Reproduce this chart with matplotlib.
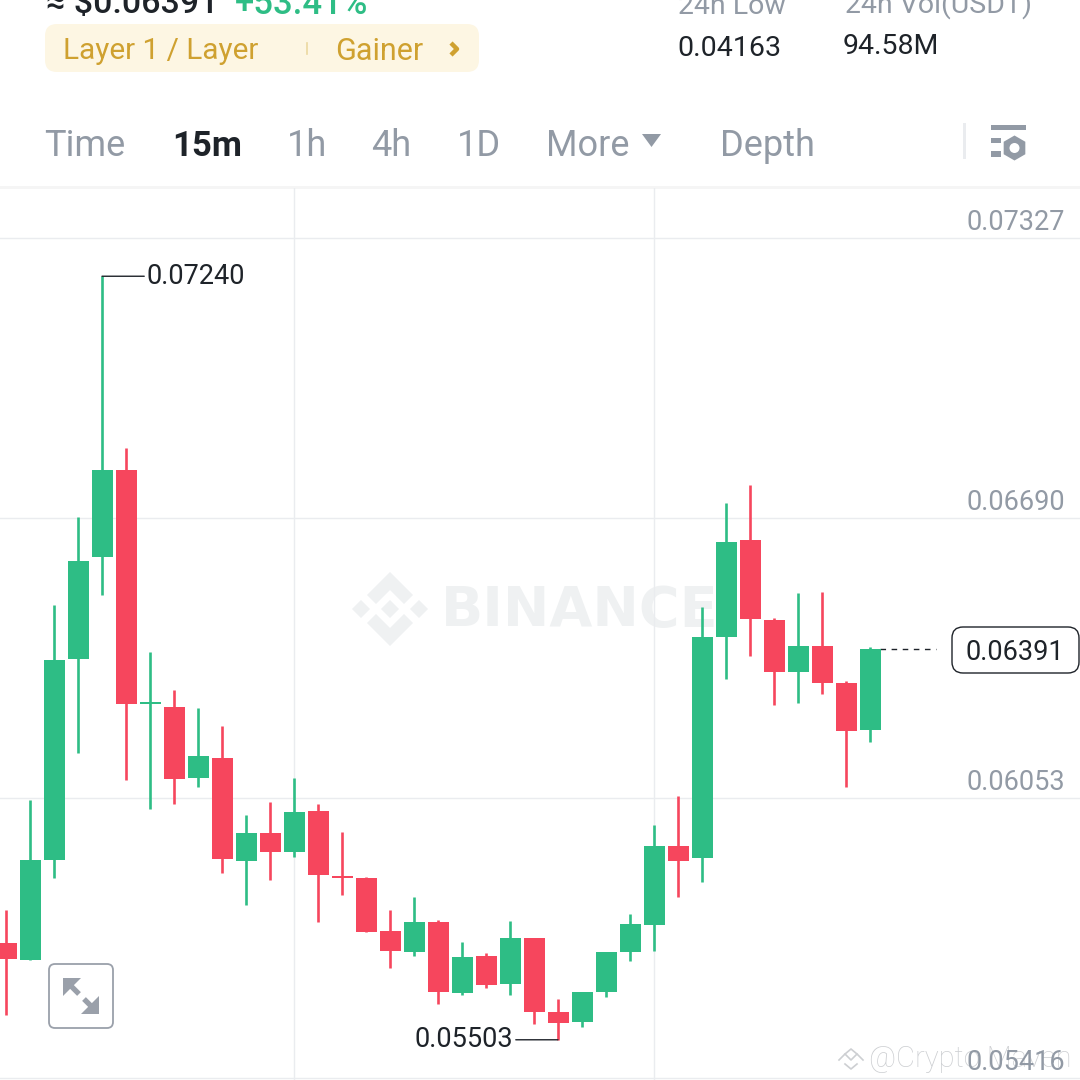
import matplotlib
matplotlib.use('Agg')
import matplotlib.pyplot as plt
from matplotlib.patches import FancyBboxPatch, Polygon, RegularPolygon, Circle, Rectangle

plt.rcParams['font.family'] = ['Roboto', 'DejaVu Sans']

# 15m candles
opens = [0.05723, 0.05684, 0.05912, 0.06369, 0.06601, 0.06799, 0.06267, 0.06260, 0.06099, 0.06144,
         0.05910, 0.05973, 0.05930, 0.06023, 0.05876, 0.05871, 0.05750, 0.05703, 0.05771, 0.05609,
         0.05694, 0.05630, 0.05735, 0.05566, 0.05543, 0.05612, 0.05703, 0.05764, 0.05944, 0.05917,
         0.06419, 0.06640, 0.06458, 0.06340, 0.06399, 0.06315, 0.06208]
highs = [0.05798, 0.06048, 0.06492, 0.06692, 0.07240, 0.06849, 0.06385, 0.06299, 0.06258, 0.06217,
         0.06014, 0.06044, 0.06099, 0.06039, 0.05976, 0.05873, 0.05798, 0.05828, 0.05775, 0.05725,
         0.05700, 0.05773, 0.05735, 0.05596, 0.05612, 0.05703, 0.05789, 0.05992, 0.06058, 0.06488,
         0.06724, 0.06765, 0.06463, 0.06519, 0.06522, 0.06319, 0.06397]
lows = [0.05559, 0.05684, 0.05871, 0.06155, 0.06515, 0.06094, 0.06028, 0.06039, 0.06078, 0.05882,
        0.05810, 0.05866, 0.05919, 0.05771, 0.05832, 0.05748, 0.05666, 0.05694, 0.05584, 0.05605,
        0.05621, 0.05605, 0.05539, 0.05503, 0.05532, 0.05600, 0.05682, 0.05705, 0.05828, 0.05862,
        0.06324, 0.06376, 0.06265, 0.06269, 0.06290, 0.06078, 0.06180]
closes = [0.05687, 0.05912, 0.06367, 0.06592, 0.06799, 0.06267, 0.06271, 0.06096, 0.06149, 0.05914,
          0.05973, 0.05930, 0.06021, 0.05878, 0.05871, 0.05748, 0.05705, 0.05771, 0.05612, 0.05691,
          0.05628, 0.05735, 0.05566, 0.05541, 0.05612, 0.05703, 0.05766, 0.05944, 0.05910, 0.06419,
          0.06635, 0.06460, 0.06340, 0.06399, 0.06315, 0.06205, 0.06391]
price_ticks = [0.07327, 0.06690, 0.06053, 0.05416]
time_grid = [12, 27]
high_mark = (4, 0.07240)
low_mark = (23, 0.05503)
last_price = 0.06391
last_index = 36

tabs = [('Time', 44), ('15m', 172), ('1h', 287), ('4h', 371), ('1D', 457), ('More', 546), ('Depth', 720)]

GREEN = '#2EBD85'
RED = '#F6465D'
GRAY = '#929AA5'
DARK = '#1E2329'
LINE = '#EAECEF'
GOLD = '#CFA130'
MARK = '#EFF1F2'

fig = plt.figure(figsize=(10.8, 10.8), dpi=100)

# pixel canvas for the app chrome, sits under the chart
ui = fig.add_axes([0, 0, 1, 1], zorder=0)
ui.set_xlim(0, 1080)
ui.set_ylim(1080, 0)
ui.axis('off')

# header
ui.text(46, 4.5, '≈ $0.06391', fontsize=24.5, fontweight='medium', color=DARK, va='center')
ui.text(235, 4.5, '+53.41%', fontsize=25, fontweight='medium', color=GREEN, va='center')
ui.add_patch(FancyBboxPatch((45, 24), 434, 48, boxstyle='round,pad=0,rounding_size=12',
                            fc='#FDF6E3', ec='none'))
ui.text(63, 51, 'Layer 1 / Layer', fontsize=21.4, color=GOLD, va='center')
ui.plot([307, 307], [43, 54], color='#EBD9A0', lw=1.2)
ui.text(335, 51, 'Gainer', fontsize=22, color=GOLD, va='center')
ui.plot([451, 457, 451], [43, 49, 55], color=GOLD, lw=3.2, solid_capstyle='butt')
ui.text(678, 6, '24h Low', fontsize=20.5, color=GRAY, va='center')
ui.text(845, 5, '24h Vol(USDT)', fontsize=20.5, color=GRAY, va='center')
ui.text(677, 49, '0.04163', fontsize=20.5, color=DARK, va='center')
ui.text(843, 47, '94.58M', fontsize=20.5, color=DARK, va='center')

# interval tabs
for name, left in tabs:
    ui.text(left, 146.5, name, va='center', color=DARK if name == '15m' else GRAY,
            fontsize=25 if name == '15m' else 26,
            fontweight='bold' if name == '15m' else 'normal')
ui.add_patch(Polygon([(642, 134), (661, 134), (651.5, 147)], fc=GRAY, ec='none'))
ui.add_patch(Rectangle((963, 123), 3, 36, fc=LINE, ec='none'))
ui.add_patch(Rectangle((991, 125), 35, 5, fc=GRAY, ec='none'))
ui.add_patch(Rectangle((991, 138), 10, 5, fc=GRAY, ec='none'))
ui.add_patch(Rectangle((991, 151), 10, 6, fc=GRAY, ec='none'))
ui.add_patch(RegularPolygon((1014.5, 148), 6, radius=12.5, fc=GRAY, ec='none'))
ui.add_patch(Circle((1014.5, 148), 5, fc='white', ec='none'))
ui.add_patch(Rectangle((0, 186), 1080, 3, fc='#F5F5F5', ec='none'))

# binance watermark
for diamond in ([(390, 600), (399, 609), (390, 618), (381, 609)],
                [(361, 600), (370, 609), (361, 618), (352, 609)],
                [(419, 600), (428, 609), (419, 618), (410, 609)],
                [(390, 572), (413, 595), (404, 604), (390, 590), (376, 604), (367, 595)],
                [(390, 646), (413, 623), (404, 614), (390, 628), (376, 614), (367, 623)]):
    ui.add_patch(Polygon(diamond, fc=MARK, ec='none'))
ui.text(441, 611, 'BINANCE', fontsize=40, fontweight='bold', color=MARK, va='center', family='DejaVu Sans')

# reposted-by mark in the corner
ui.text(869, 1059, '@Crypto Maven', fontsize=21, color='#CDCFD2', va='center', fontweight='light')
ui.plot([839, 845, 851, 857, 863], [1060, 1054, 1060, 1054, 1060], color='#CDCFD2', lw=1.2)
ui.plot([845, 851, 857], [1064, 1069, 1064], color='#CDCFD2', lw=1.2)
ui.plot([845, 851, 857], [1054, 1049, 1054], color='#CDCFD2', lw=1.2)

# expand button
ui.add_patch(FancyBboxPatch((49, 964), 64, 64, boxstyle='round,pad=0,rounding_size=6',
                            fc='white', ec='#9AA0AA', lw=1.3))
ui.add_patch(Polygon([(63, 978), (81, 978), (63, 996)], fc='#9AA0AA', ec='none'))
ui.add_patch(Polygon([(99, 1014), (81, 1014), (99, 996)], fc='#9AA0AA', ec='none'))
ui.plot([70, 79], [985, 994], color='#9AA0AA', lw=3.8, solid_capstyle='butt')
ui.plot([84, 92], [999, 1007], color='#9AA0AA', lw=3.8, solid_capstyle='butt')

# current price badge
ui.add_patch(FancyBboxPatch((952, 627), 127, 46, boxstyle='round,pad=0,rounding_size=11',
                            fc='white', ec=DARK, lw=1))

# chart itself
ax = fig.add_axes([0, 0, 1, 892 / 1080], zorder=1)
ax.patch.set_visible(False)
ax.set_xlim(-0.25, 44.75)
ax.set_ylim(0.054115, 0.0744075)
ax.axis('off')

for t in price_ticks:
    ax.axhline(t, color=LINE, lw=1, zorder=1)
    ax.annotate(f'{t:.5f}', xy=(1065 / 1080, t), xycoords=ax.get_yaxis_transform(),
                xytext=(0, 16), textcoords='offset pixels', ha='right', va='center',
                fontsize=19.5, color=GRAY)
for i in time_grid:
    ax.axvline(i, color=LINE, lw=1, zorder=1)

xs = list(range(len(opens)))
colors = [GREEN if c >= o else RED for o, c in zip(opens, closes)]
ax.vlines(xs, lows, highs, colors=colors, lw=1.9, zorder=2)
ax.bar(xs, [abs(c - o) for o, c in zip(opens, closes)], bottom=[min(o, c) for o, c in zip(opens, closes)],
       width=0.875, color=colors, lw=0, zorder=3)

# high / low callouts
ax.annotate(f'{high_mark[1]:.5f}', xy=high_mark, xytext=(45, 0), textcoords='offset pixels',
            ha='left', va='center', fontsize=19.5, color=DARK,
            arrowprops=dict(arrowstyle='-', color=DARK, lw=1, shrinkA=0, shrinkB=0))
ax.annotate(f'{low_mark[1]:.5f}', xy=low_mark, xytext=(-45, 0), textcoords='offset pixels',
            ha='right', va='center', fontsize=19.5, color=DARK,
            arrowprops=dict(arrowstyle='-', color=DARK, lw=1, shrinkA=0, shrinkB=0))

# current price
ax.plot([last_index + 0.4, last_index + 2.75], [last_price, last_price], color=DARK, lw=1, ls=(0, (4, 4)))
ax.annotate(f'{last_price:.5f}', xy=(1015 / 1080, last_price), xycoords=ax.get_yaxis_transform(),
            xytext=(0, -3), textcoords='offset pixels', ha='center', va='center',
            fontsize=19.5, color=DARK)

fig.savefig('out.png', dpi=100)
